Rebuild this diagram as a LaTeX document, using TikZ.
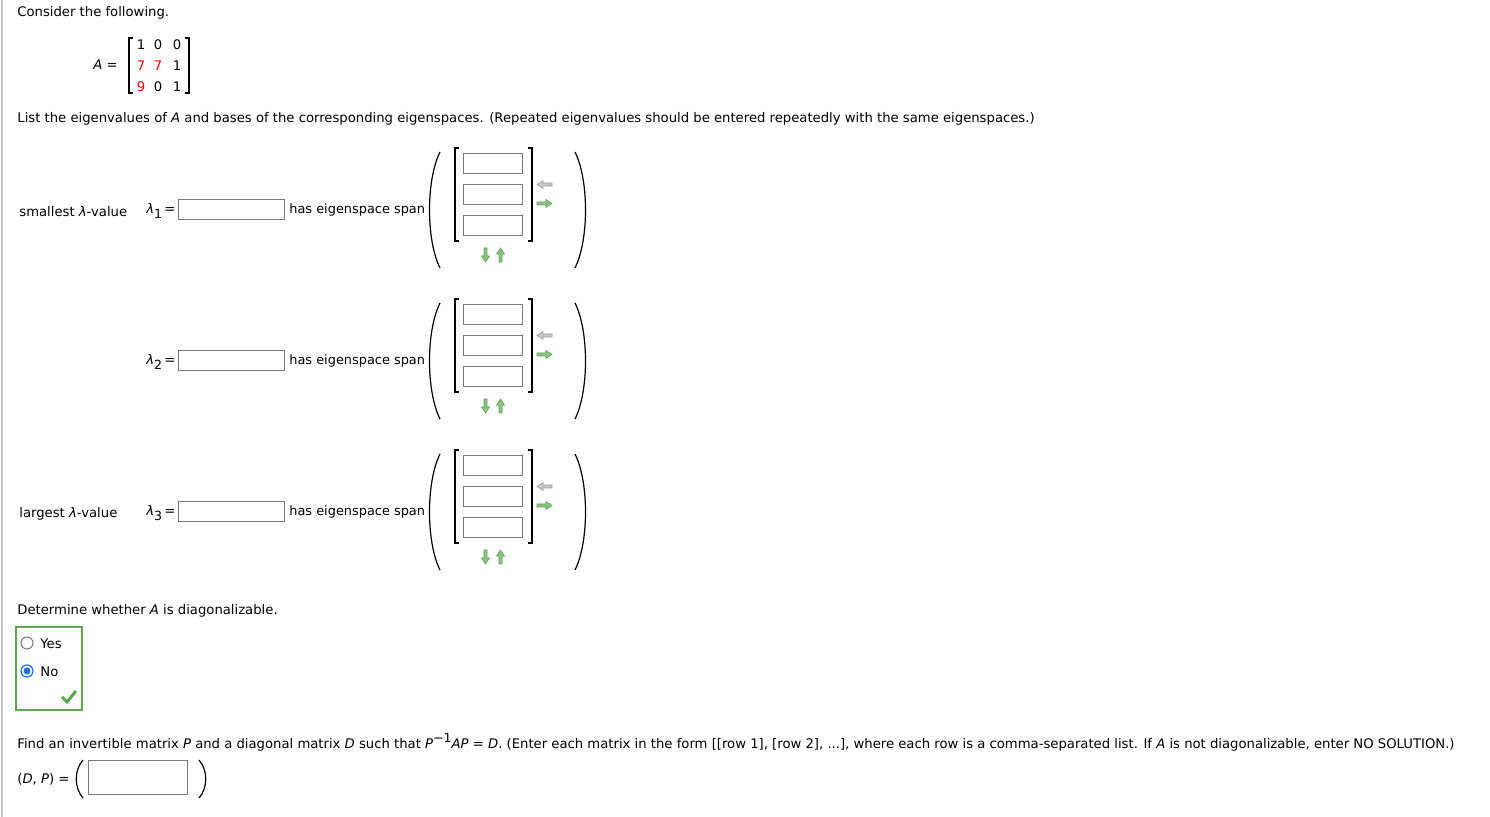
\documentclass[tikz,border=0pt]{standalone}
\usepackage{fontspec}
\setmainfont{DejaVu Sans}
\usetikzlibrary{arrows.meta}
\definecolor{grn}{HTML}{5CA84F}
\definecolor{gry}{HTML}{C8C8C8}
\definecolor{bxc}{HTML}{7A7A7A}
\definecolor{radb}{HTML}{1A73E8}
\newcommand{\mysub}[1]{\raisebox{-2.5pt}{\fontsize{6.3pt}{7pt}\selectfont #1}}
\newcommand{\mysup}[1]{\raisebox{3pt}{\fontsize{6.3pt}{7pt}\selectfont #1}}
\begin{document}
\begin{tikzpicture}[x=0.5pt,y=-0.5pt,
  txt/.style={anchor=west,inner sep=0,font=\fontsize{6.6pt}{8pt}\selectfont},
  stxt/.style={anchor=west,inner sep=0,font=\fontsize{6.45pt}{8pt}\selectfont},
  inbox/.style={draw=bxc,line width=0.5pt,inner sep=0},
  par/.style={line width=0.6pt},
  brk/.style={line width=0.6pt},
  garr/.style={draw=grn,fill=grn!70,line width=0.3pt},
  harr/.style={draw=gry!80!black,fill=gry,line width=0.3pt}]
\useasboundingbox (0,0) rectangle (1490,817);
\fill[white] (0,0) rectangle (1490,817);
\draw[gry,line width=1pt] (2,0) -- (2,817);
\node[txt] (t1) at (17,13) {Consider the following.};
\node[txt] (Aeq) at (93,65) {\textit{A} =};
\draw[brk] (133,38)--(129,38)--(129,93)--(133,93);
\draw[brk] (185,38)--(189,38)--(189,93)--(185,93);
\foreach \r/\a/\b/\c/\ca/\cb in {45/1/0/0/black/black,66/7/7/1/red/red,87/9/0/1/red/black}{
  \node[txt,anchor=center,text=\ca] at (141,\r) {\a};
  \node[txt,anchor=center,text=\cb] at (158,\r) {\b};
  \node[txt,anchor=center] at (177,\r) {\c};}
\node[txt] (t2) at (17,119) {List the eigenvalues of \textit{A} and bases of the corresponding eigenspaces. (Repeated eigenvalues should be entered repeatedly with the same eigenspaces.)};
\node[txt] (s1) at (19,212) {smallest \textit{λ}-value};
\node[txt] (s3) at (19,514) {largest \textit{λ}-value};
\foreach \i/\d in {1/0,2/151,3/302}{
  \begin{scope}[yshift=-\d*0.5pt]
  \node[txt] (lam\i) at (146,211) {\textit{λ}\mysub{\i}\,=};
  \node[inbox,minimum width=53pt,minimum height=10pt] (in\i) at (231,210) {};
  \node[stxt] (has\i) at (289,210) {has eigenspace span};
  \draw[par] (440,152) .. controls (426,180) and (426,240) .. (440,268);
  \draw[par] (575,152) .. controls (589,180) and (589,240) .. (575,268);
  \draw[brk] (459,148)--(455,148)--(455,241)--(459,241);
  \draw[brk] (528,148)--(532,148)--(532,241)--(528,241);
  \foreach \k/\yy in {a/164,b/195,c/226}
    \node[inbox,minimum width=29.5pt,minimum height=10pt] (v\i\k) at (493,\yy) {};
  \draw[harr] (552,183)--(543,183)--(543,180.5)--(537,184.5)--(543,188.5)--(543,186)--(552,186)--cycle;
  \draw[garr] (537,202)--(546,202)--(546,199.5)--(552,203.5)--(546,207.5)--(546,205)--(537,205)--cycle;
  \draw[garr] (484,248)--(484,256)--(481.5,256)--(485.5,262)--(489.5,256)--(487,256)--(487,248)--cycle;
  \draw[garr] (499,262)--(499,254)--(496.5,254)--(500.5,248)--(504.5,254)--(502,254)--(502,262)--cycle;
  \end{scope}}
\node[txt] (t3) at (17,611) {Determine whether \textit{A} is diagonalizable.};
\draw[grn,line width=0.6pt] (16,627) rectangle (82,710);
\draw[bxc,line width=0.5pt,fill=white] (27,643) circle (6);
\node[txt] (yes) at (40,644) {Yes};
\draw[radb,line width=0.6pt,fill=white] (27,671) circle (6);
\fill[radb] (27,671) circle (3.5);
\node[txt] (no) at (40,672) {No};
\draw[grn,line width=1.5pt] (62,697)--(67,702)--(76,691);
\node[txt] (t4) at (17,742) {Find an invertible matrix \textit{P} and a diagonal matrix \textit{D} such that \textit{P}\mysup{−1}\textit{AP} = \textit{D}. (Enter each matrix in the form [[row 1], [row 2], ...], where each row is a comma-separated list. If \textit{A} is not diagonalizable, enter NO SOLUTION.)};
\node[txt] (dp) at (17,779) {(\textit{D}, \textit{P}) =};
\draw[par] (83,760) .. controls (74,770) and (74,788) .. (83,798);
\draw[par] (199,760) .. controls (208,770) and (208,788) .. (199,798);
\node[inbox,minimum width=49.5pt,minimum height=17pt] (dpin) at (138,778) {};
\end{tikzpicture}
\end{document}
